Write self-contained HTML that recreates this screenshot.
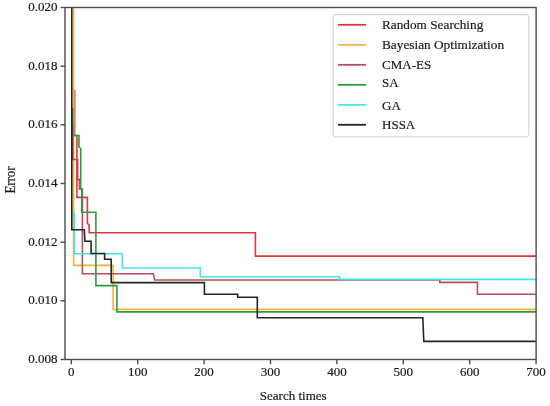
<!DOCTYPE html>
<html><head><meta charset="utf-8"><style>
html,body{margin:0;padding:0;background:#fff;width:550px;height:406px;overflow:hidden}
svg{display:block}
text{stroke:#1a1a1a;stroke-width:0.2px}
</style></head><body>
<svg width="550" height="406" viewBox="0 0 550 406" font-family="'Liberation Serif', 'Times New Roman', serif" font-size="13.5" fill="#1a1a1a"><rect x="0" y="0" width="550" height="406" fill="#fff"/>
<defs><clipPath id="c"><rect x="65" y="7.5" width="471.1" height="352"/></clipPath></defs>
<g clip-path="url(#c)" fill="none" stroke-width="1.6" stroke-linejoin="miter">
<path d="M73.6 0 V265.4 H113.1 V309.4 H536.1" stroke="#f4b33a"/>
<path d="M72.8 125 V159.5 H77.7 V179.6 H79.4 V189 H82.4 V273.7 H153.3 L154.8 280 H439.8 V282.4 H477.4 V294.2 H536.1" stroke="#b4505a"/>
<path d="M74.9 90 V135.5 H77" stroke="#df3539" stroke-width="1.3" stroke-opacity="0.8"/>
<path d="M76.9 135.5 V197.4 H87.4 V223.3 L89.2 225 V232.7 H255.4 V256.1 H536.1" stroke="#df3539"/>
<path d="M72.6 108 V135.5 H79 V147 L80.7 148.5 V189 L81.8 190 V212.3 H95.9 V285.6 H116.9 V311.9 H536.1" stroke="#2f9b3b"/>
<path d="M72.5 213.8 H74.4 V253.8 H122.3 V268 H200.3 V276.8 H339.6 V279.4 H536.1" stroke="#45e2ee"/>
<path d="M71.8 0 V229.8 H84.2 L85 241.3 H91.1 V253.5 H104.6 V259.2 H111.2 V282.6 H204.4 V294.2 H237.7 V297.3 H257.3 V317.8 H422.8 L423.8 341.4 H536.1" stroke="#242424"/>
</g>
<rect x="65.0" y="7.5" width="471.1" height="352.0" fill="none" stroke="#4d4d4d" stroke-width="1.4"/>
<line x1="60.5" y1="7.50" x2="65.0" y2="7.50" stroke="#4d4d4d" stroke-width="1.4"/>
<text transform="translate(57.50,11.10) scale(0.965,1)" text-anchor="end">0.020</text>
<line x1="60.5" y1="66.17" x2="65.0" y2="66.17" stroke="#4d4d4d" stroke-width="1.4"/>
<text transform="translate(57.50,69.77) scale(0.965,1)" text-anchor="end">0.018</text>
<line x1="60.5" y1="124.83" x2="65.0" y2="124.83" stroke="#4d4d4d" stroke-width="1.4"/>
<text transform="translate(57.50,128.43) scale(0.965,1)" text-anchor="end">0.016</text>
<line x1="60.5" y1="183.50" x2="65.0" y2="183.50" stroke="#4d4d4d" stroke-width="1.4"/>
<text transform="translate(57.50,187.10) scale(0.965,1)" text-anchor="end">0.014</text>
<line x1="60.5" y1="242.17" x2="65.0" y2="242.17" stroke="#4d4d4d" stroke-width="1.4"/>
<text transform="translate(57.50,245.77) scale(0.965,1)" text-anchor="end">0.012</text>
<line x1="60.5" y1="300.83" x2="65.0" y2="300.83" stroke="#4d4d4d" stroke-width="1.4"/>
<text transform="translate(57.50,304.43) scale(0.965,1)" text-anchor="end">0.010</text>
<line x1="60.5" y1="359.50" x2="65.0" y2="359.50" stroke="#4d4d4d" stroke-width="1.4"/>
<text transform="translate(57.50,363.10) scale(0.965,1)" text-anchor="end">0.008</text>
<line x1="71.30" y1="359.5" x2="71.30" y2="364.2" stroke="#4d4d4d" stroke-width="1.4"/>
<text transform="translate(71.30,376.20) scale(0.965,1)" text-anchor="middle">0</text>
<line x1="137.70" y1="359.5" x2="137.70" y2="364.2" stroke="#4d4d4d" stroke-width="1.4"/>
<text transform="translate(137.70,376.20) scale(0.965,1)" text-anchor="middle">100</text>
<line x1="204.10" y1="359.5" x2="204.10" y2="364.2" stroke="#4d4d4d" stroke-width="1.4"/>
<text transform="translate(204.10,376.20) scale(0.965,1)" text-anchor="middle">200</text>
<line x1="270.50" y1="359.5" x2="270.50" y2="364.2" stroke="#4d4d4d" stroke-width="1.4"/>
<text transform="translate(270.50,376.20) scale(0.965,1)" text-anchor="middle">300</text>
<line x1="336.90" y1="359.5" x2="336.90" y2="364.2" stroke="#4d4d4d" stroke-width="1.4"/>
<text transform="translate(336.90,376.20) scale(0.965,1)" text-anchor="middle">400</text>
<line x1="403.30" y1="359.5" x2="403.30" y2="364.2" stroke="#4d4d4d" stroke-width="1.4"/>
<text transform="translate(403.30,376.20) scale(0.965,1)" text-anchor="middle">500</text>
<line x1="469.70" y1="359.5" x2="469.70" y2="364.2" stroke="#4d4d4d" stroke-width="1.4"/>
<text transform="translate(469.70,376.20) scale(0.965,1)" text-anchor="middle">600</text>
<line x1="536.10" y1="359.5" x2="536.10" y2="364.2" stroke="#4d4d4d" stroke-width="1.4"/>
<text transform="translate(536.10,376.20) scale(0.965,1)" text-anchor="middle">700</text>
<text transform="translate(293.20,400.30) scale(0.965,1)" text-anchor="middle">Search times</text>
<text transform="translate(14.6,180) rotate(-90) scale(0.87,1)" text-anchor="middle" font-size="14.8">Error</text>
<rect x="333.2" y="14.6" width="195.5" height="122.2" rx="2.5" ry="2.5" fill="#fff" fill-opacity="0.8" stroke="#d8d8d8" stroke-width="1.2"/>
<line x1="338" y1="24.80" x2="366" y2="24.80" stroke="#df3539" stroke-width="1.8"/>
<text transform="translate(382.00,29.00) scale(0.983,1)" text-anchor="start">Random Searching</text>
<line x1="338" y1="44.80" x2="366" y2="44.80" stroke="#f4b33a" stroke-width="1.8"/>
<text transform="translate(382.00,49.30) scale(0.985,1)" text-anchor="start">Bayesian Optimization</text>
<line x1="338" y1="64.80" x2="366" y2="64.80" stroke="#b4505a" stroke-width="1.8"/>
<text transform="translate(382.00,69.00) scale(0.965,1)" text-anchor="start">CMA-ES</text>
<line x1="338" y1="84.80" x2="366" y2="84.80" stroke="#2f9b3b" stroke-width="1.8"/>
<text transform="translate(382.00,87.20) scale(0.965,1)" text-anchor="start">SA</text>
<line x1="338" y1="104.80" x2="366" y2="104.80" stroke="#45e2ee" stroke-width="1.8"/>
<text transform="translate(382.00,110.00) scale(0.965,1)" text-anchor="start">GA</text>
<line x1="338" y1="124.80" x2="366" y2="124.80" stroke="#242424" stroke-width="1.8"/>
<text transform="translate(382.00,129.00) scale(0.965,1)" text-anchor="start">HSSA</text></svg>
</body></html>
